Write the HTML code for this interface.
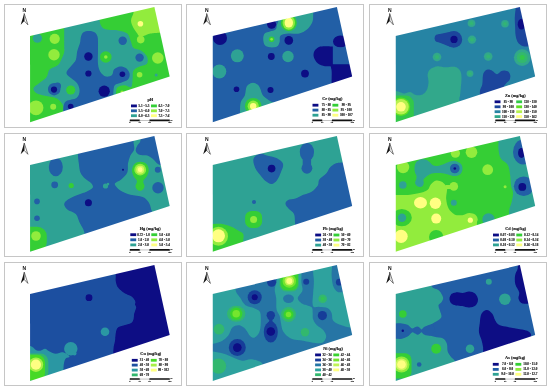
<!DOCTYPE html>
<html><head><meta charset="utf-8"><title>Heavy metal maps</title>
<style>
html,body{margin:0;padding:0;background:#fff}
body{width:550px;height:390px;overflow:hidden}
svg{display:block}
text{font-family:"Liberation Serif",serif;fill:#111}
.lt{font-size:4.3px;font-weight:bold;stroke:#111;stroke-width:0.12px}
.ll{font-size:3.3px;font-weight:bold;stroke:#111;stroke-width:0.12px}
.n{font-family:"Liberation Sans",sans-serif;font-size:5px;font-weight:bold}
.sb{font-size:2.3px;font-weight:bold;stroke:#111;stroke-width:0.1px}
</style></head><body>
<svg width="550" height="390" viewBox="0 0 550 390">
<defs>
<clipPath id="q"><path d="M30 36L154.4 6.9L169.7 76.5L30.1 122.3"/></clipPath>
<clipPath id="q2"><path d="M30 35.4L154.4 6.5L169.7 76.5L30.1 122.3"/></clipPath>
<filter id="bl" x="-5%" y="-5%" width="110%" height="110%"><feGaussianBlur stdDeviation="0.35"/></filter>
</defs>
<rect x="4.5" y="4.5" width="177" height="123" fill="#fff" stroke="#c6c6c6" stroke-width="1"/>
<rect x="4.5" y="133.5" width="177" height="123" fill="#fff" stroke="#c6c6c6" stroke-width="1"/>
<rect x="4.5" y="262.5" width="177" height="123" fill="#fff" stroke="#c6c6c6" stroke-width="1"/>
<rect x="186.5" y="4.5" width="177" height="123" fill="#fff" stroke="#c6c6c6" stroke-width="1"/>
<rect x="186.5" y="133.5" width="177" height="123" fill="#fff" stroke="#c6c6c6" stroke-width="1"/>
<rect x="186.5" y="262.5" width="177" height="123" fill="#fff" stroke="#c6c6c6" stroke-width="1"/>
<rect x="369.5" y="4.5" width="177" height="123" fill="#fff" stroke="#c6c6c6" stroke-width="1"/>
<rect x="369.5" y="133.5" width="177" height="123" fill="#fff" stroke="#c6c6c6" stroke-width="1"/>
<rect x="369.5" y="262.5" width="177" height="123" fill="#fff" stroke="#c6c6c6" stroke-width="1"/>
<g transform="translate(0 0)">
<g><text class="n" x="24.3" y="11.9" text-anchor="middle">N</text><path d="M24.2 13.5L20.7 24.8L24.3 21Z" fill="#111"/><path d="M24.2 13.5L27.9 24.8L24.3 21Z" fill="#fff" stroke="#222" stroke-width="0.6" stroke-linejoin="round"/></g>
<g clip-path="url(#q)"><g filter="url(#bl)">
<rect x="20" y="0" width="160" height="130" fill="#2fa294"/>
<path fill="#34ce36" d="M64.2 15C64.2 15 64.2 25 64.2 30C64.2 35 64.2 41.3 64.2 45C64.2 48.7 64.6 49.8 64.2 52C63.8 54.2 63 55.8 62 58C61 60.2 60.1 63.1 58 65C55.9 66.9 51.5 67.5 49.6 69.6C47.7 71.6 48.3 75 46.5 77.3C44.7 79.6 41 81.7 38.8 83.5C36.6 85.3 34 86.5 33.5 88C33 89.5 33.9 91.4 35.8 92.7C37.7 94 41.7 94.9 45 95.8C48.3 96.7 53 96.7 55.8 98C58.6 99.3 60.7 101.4 62 103.5C63.3 105.6 63.2 106.3 63.5 110.4C63.8 114.5 63.5 128 63.5 128L15 128L15 15L64.2 15Z"/>
<path fill="#34ce36" d="M99.6 15C99.6 15 99.4 18.6 99.6 20.4C99.8 22.1 100.2 24.1 101 25.5C101.8 26.9 102.7 28.1 104.2 28.8C105.7 29.6 107.7 29.7 110 30C112.3 30.3 115.1 29.8 118 30.4C120.9 31 125.1 31.6 127.3 33.5C129.5 35.4 130 39.6 131 42C132 44.4 131.8 46.6 133.5 48C135.2 49.4 138.8 49.1 141 50.4C143.2 51.7 145.4 54 146.5 55.8C147.6 57.6 147.9 59.5 147.8 61C147.7 62.5 147.4 63.6 146 64.5C144.6 65.4 141.7 65.5 139.6 66.5C137.5 67.5 134.7 68.5 133.5 70.4C132.3 72.3 132.9 75.6 132.7 78C132.4 80.4 132.4 83.5 132 85C131.6 86.5 131.7 87.3 130.4 87.3C129.1 87.3 126.4 85.2 124.2 85.2C122 85.2 118.9 85.9 117.5 87.2C116.1 88.5 116.2 90 116 93C115.8 96 116 105 116 105L185 105L185 0L99.6 0L99.6 15Z"/>
<path fill="#92ec3c" d="M133.5 5C133.5 5 133.9 10.1 133.5 12.7C133.1 15.3 131 17.8 131 20.4C131 22.9 132.4 25.8 133.5 28C134.6 30.2 136.4 32.2 137.3 33.5C138.2 34.8 138 35.6 139 36C140 36.4 141.6 36.4 143.5 36C145.4 35.6 147.7 34 150.4 33.5C153.1 33 154.7 33 159.6 32.7C164.5 32.5 180 32 180 32L180 0L133.5 5Z"/>
<circle fill="#92ec3c" cx="140.7" cy="39.6" r="3.8"/>
<path fill="#225ea6" d="M81 36.5C81.6 34.7 82.2 33.1 83.5 32.2C84.8 31.3 87 31 88.8 31C90.6 31 93 31.3 94.5 32.2C96 33.1 96.9 34.7 97.5 36.5C98.1 38.3 97.9 40.6 98 43C98.1 45.4 98 47.5 98 51C98 54.5 97.6 60.5 98 64C98.4 67.5 99.1 69.9 100.4 72C101.7 74.1 103.9 76 105.8 76.5C107.7 77 110.6 76.2 112 75C113.4 73.8 112.7 71 114 69.6C115.3 68.2 117.6 66.8 119.6 66.5C121.6 66.2 124.1 66.8 125.8 68C127.5 69.2 129.2 71.6 129.6 73.5C130 75.4 129.4 78.1 128 79.6C126.6 81.1 123.2 81.8 121 82.7C118.8 83.6 116.2 83.7 115 85C113.8 86.3 113.8 87.9 113.5 90.4C113.2 92.9 113.5 100 113.5 100L63.5 118C63.5 118 63 109.3 63.5 106.5C64 103.7 64.3 102.4 66.5 101C68.7 99.6 74.3 99.7 76.5 98C78.7 96.3 79.5 93.4 79.6 91C79.7 88.6 78.7 85.7 77.3 83.5C75.9 81.3 72.8 79.8 71 78C69.2 76.2 66.3 74.9 66.5 72.7C66.7 70.5 70.5 67.1 72 65C73.5 62.9 74.9 62.3 75.8 60C76.7 57.7 76.6 53.8 77.3 51C78 48.2 79.4 45.4 80 43C80.6 40.6 80.4 38.3 81 36.5Z"/>
<circle fill="#2fa294" cx="37.4" cy="38.2" r="4.6"/>
<circle fill="#92ec3c" cx="54.7" cy="38.8" r="5.1"/>
<circle fill="#92ec3c" cx="54" cy="54.8" r="5.7"/>
<circle fill="#0c0c84" cx="88.4" cy="56.5" r="4.2"/>
<circle fill="#ffff82" cx="140.4" cy="23.8" r="2.8"/>
<circle fill="#225ea6" cx="122.7" cy="40.7" r="4.2"/>
<circle fill="#225ea6" cx="139.6" cy="57.6" r="4.2"/>
<circle fill="#34ce36" cx="105.8" cy="57" r="5.8"/>
<circle fill="#92ec3c" cx="105.8" cy="57" r="1.8"/>
<circle fill="#92ec3c" cx="157.8" cy="58" r="5.8"/>
<circle fill="#225ea6" cx="54.2" cy="89.2" r="6.2"/>
<circle fill="#225ea6" cx="57.5" cy="86" r="3.5"/>
<circle fill="#0c0c84" cx="54" cy="89.6" r="3.1"/>
<circle fill="#34ce36" cx="70.7" cy="90" r="4.6"/>
<circle fill="#0c0c84" cx="88.4" cy="73.5" r="3.1"/>
<circle fill="#0c0c84" cx="104.2" cy="91.2" r="5.6"/>
<circle fill="#0c0c84" cx="70.7" cy="106.5" r="2.8"/>
<circle fill="#92ec3c" cx="36" cy="107.8" r="7.4"/>
<circle fill="#92ec3c" cx="53.2" cy="106.8" r="3"/>
<circle fill="#0c0c84" cx="122.4" cy="74.2" r="2.8"/>
<circle fill="#92ec3c" cx="122" cy="92" r="1.5"/>
<circle fill="#92ec3c" cx="139.6" cy="74.7" r="2.8"/>
<circle fill="#2fa294" cx="156.2" cy="75" r="1.5"/>
</g></g>
<text class="lt" x="150.3" y="101.1" text-anchor="middle">pH</text>
<rect x="131" y="104.5" width="5.9" height="2.8" fill="#0c0c84"/><text class="ll" x="144" y="107" text-anchor="middle">5.1 - 5.5</text>
<rect x="131" y="109.4" width="5.9" height="2.8" fill="#225ea6"/><text class="ll" x="144" y="111.9" text-anchor="middle">5.5 - 6.0</text>
<rect x="131" y="114.3" width="5.9" height="2.8" fill="#2fa294"/><text class="ll" x="144" y="116.8" text-anchor="middle">6.0 - 6.5</text>
<rect x="151" y="104.5" width="5.9" height="2.8" fill="#34ce36"/><text class="ll" x="163.9" y="107" text-anchor="middle">6.5 - 7.0</text>
<rect x="151" y="109.4" width="5.9" height="2.8" fill="#92ec3c"/><text class="ll" x="163.9" y="111.9" text-anchor="middle">7.0 - 7.5</text>
<rect x="151" y="114.3" width="5.9" height="2.8" fill="#ffff82"/><text class="ll" x="163.9" y="116.8" text-anchor="middle">7.5 - 7.6</text>
<g><path d="M129.9 119.6h9.8v1.6h-9.8zM149.5 119.6h20.2v1.6h-20.2z" fill="#111"/><path d="M139.7 120.1h9.8v0.7h-9.8z" fill="#aaa"/><path d="M129.9 119.9v1.9M139.7 119.9v1.9M149.5 119.9v1.9M169.7 119.9v1.9" stroke="#222" stroke-width="0.3"/><text class="sb" x="129.9" y="123.3" text-anchor="middle">0</text><text class="sb" x="139.7" y="123.3" text-anchor="middle">25</text><text class="sb" x="149.5" y="123.3" text-anchor="middle">50</text><text class="sb" x="169.7" y="123.3" text-anchor="middle">100</text><text class="sb" x="170.4" y="120.9">m</text></g>
</g>
<g transform="translate(182.5 0)">
<g><text class="n" x="24.3" y="11.9" text-anchor="middle">N</text><path d="M24.2 13.5L20.7 24.8L24.3 21Z" fill="#111"/><path d="M24.2 13.5L27.9 24.8L24.3 21Z" fill="#fff" stroke="#222" stroke-width="0.6" stroke-linejoin="round"/></g>
<g clip-path="url(#q)"><g filter="url(#bl)">
<rect x="20" y="0" width="160" height="130" fill="#225ea6"/>
<circle fill="#0c0c84" cx="37.5" cy="38" r="7"/>
<circle fill="#2fa294" cx="54.8" cy="55.8" r="6.5"/>
<path fill="#2fa294" d="M96 8C96 8 96.2 16.8 96 19.6C95.8 22.4 95 23.3 94.5 25C94 26.7 94.2 28.5 93 29.6C91.8 30.7 89.3 30.9 87.5 31.5C85.7 32.1 83.3 32.3 82.2 33.5C81.1 34.7 80.7 36.9 80.7 38.8C80.7 40.7 81.1 43.6 82.2 45C83.3 46.4 85.5 47 87.5 47.3C89.5 47.5 92.9 47.4 94.5 46.5C96.1 45.6 96.6 43.7 97.1 42C97.6 40.3 96.9 37.8 97.5 36.5C98.1 35.2 99 34.7 100.7 34.2C102.4 33.7 104.8 33.6 107.5 33.5C110.2 33.4 114 34.1 116.8 33.5C119.6 32.9 122.3 31.5 124.5 29.6C126.7 27.7 128.9 24.7 129.9 22C130.9 19.3 130.6 16.7 130.7 13.5C130.8 10.3 130.7 3 130.7 3L96 8Z"/>
<circle fill="#34ce36" cx="89.1" cy="39.2" r="2.8"/>
<circle fill="#92ec3c" cx="89.1" cy="39.2" r="1.3"/>
<circle fill="#0c0c84" cx="89.1" cy="24.2" r="4.5"/>
<circle fill="#0c0c84" cx="88.8" cy="56.5" r="3.4"/>
<ellipse fill="#34ce36" cx="106.3" cy="22.7" rx="8" ry="8.5"/>
<ellipse fill="#92ec3c" cx="106.3" cy="22.7" rx="6.2" ry="7"/>
<ellipse fill="#ffff82" cx="106.3" cy="22.7" rx="4.2" ry="4.9"/>
<circle fill="#0c0c84" cx="106.3" cy="40.4" r="4.3"/>
<circle fill="#2fa294" cx="105.5" cy="56.5" r="5.7"/>
<path fill="#0c0c84" d="M150.3 46.5L150.3 66C150.3 66 145 66.6 142.5 66.2C140 65.8 137.4 65 135.5 63.5C133.6 62 131.9 59.1 131.3 57C130.7 54.9 131.1 52.7 132 51C132.9 49.3 134.8 47.8 136.5 47C138.2 46.2 140.2 46.3 142.5 46.2C144.8 46.1 150.3 46.5 150.3 46.5Z"/>
<path fill="#0c0c84" d="M147.5 64.2C147.5 64.2 148.8 67.3 149.1 70.4C149.4 73.5 149.1 78.6 149.1 82.7C149.1 86.8 149.1 95 149.1 95L180 95L180 64.2L147.5 64.2Z"/>
<ellipse fill="#0c0c84" cx="158" cy="41.5" rx="7.5" ry="6"/>
<rect fill="#225ea6" x="150.5" y="47.3" width="19.5" height="16.7" rx="2.5"/>
<circle fill="#0c0c84" cx="122.5" cy="73.6" r="3.9"/>
<circle fill="#2fa294" cx="36.8" cy="71.5" r="7"/>
<circle fill="#0c0c84" cx="54" cy="89.3" r="2.8"/>
<circle fill="#0c0c84" cx="88" cy="90" r="3"/>
<path fill="#2fa294" d="M70.5 82.7C72 82.7 73.8 83.6 75 84.5C76.2 85.4 76.5 86.1 77.5 88C78.5 89.9 78.9 93.5 80.7 95.8C82.5 98 85.8 100 88.5 101.5C91.2 103 95.6 101.9 97 105C98.4 108.1 97 120 97 120L57.5 120C57.5 120 57.4 114 57.5 111C57.6 108 57.5 104.5 58.3 102C59.1 99.5 61.3 98.1 62.2 95.8C63.1 93.5 63.1 89.9 63.7 88C64.3 86.1 64.9 85.4 66 84.5C67.1 83.6 69 82.7 70.5 82.7Z"/>
<circle fill="#34ce36" cx="70.7" cy="106.2" r="8.3"/>
<circle fill="#92ec3c" cx="70.7" cy="106.2" r="5.6"/>
<circle fill="#ffff82" cx="70.7" cy="106.2" r="3.2"/>
</g></g>
<text class="lt" x="149.8" y="100.4" text-anchor="middle">Cr (mg/kg)</text>
<rect x="130" y="103.8" width="5.9" height="2.8" fill="#0c0c84"/><text class="ll" x="143.8" y="106.3" text-anchor="middle">75 - 80</text>
<rect x="130" y="108.7" width="5.9" height="2.8" fill="#225ea6"/><text class="ll" x="143.8" y="111.2" text-anchor="middle">80 - 85</text>
<rect x="130" y="113.8" width="5.9" height="2.8" fill="#2fa294"/><text class="ll" x="143.8" y="116.3" text-anchor="middle">85 - 90</text>
<rect x="149.9" y="103.8" width="5.9" height="2.8" fill="#34ce36"/><text class="ll" x="163.8" y="106.3" text-anchor="middle">90 - 95</text>
<rect x="149.9" y="108.7" width="5.9" height="2.8" fill="#92ec3c"/><text class="ll" x="163.8" y="111.2" text-anchor="middle">95 - 100</text>
<rect x="149.9" y="113.8" width="5.9" height="2.8" fill="#ffff82"/><text class="ll" x="163.8" y="116.3" text-anchor="middle">100 - 107</text>
<g><path d="M129.9 119.6h9.8v1.6h-9.8zM149.5 119.6h20.2v1.6h-20.2z" fill="#111"/><path d="M139.7 120.1h9.8v0.7h-9.8z" fill="#aaa"/><path d="M129.9 119.9v1.9M139.7 119.9v1.9M149.5 119.9v1.9M169.7 119.9v1.9" stroke="#222" stroke-width="0.3"/><text class="sb" x="129.9" y="123.3" text-anchor="middle">0</text><text class="sb" x="139.7" y="123.3" text-anchor="middle">25</text><text class="sb" x="149.5" y="123.3" text-anchor="middle">50</text><text class="sb" x="169.7" y="123.3" text-anchor="middle">100</text><text class="sb" x="170.4" y="120.9">m</text></g>
</g>
<g transform="translate(365.5 0)">
<g><text class="n" x="24.3" y="11.9" text-anchor="middle">N</text><path d="M24.2 13.5L20.7 24.8L24.3 21Z" fill="#111"/><path d="M24.2 13.5L27.9 24.8L24.3 21Z" fill="#fff" stroke="#222" stroke-width="0.6" stroke-linejoin="round"/></g>
<g clip-path="url(#q)"><g filter="url(#bl)">
<rect x="20" y="0" width="160" height="130" fill="#2884a4"/>
<path fill="#30a88b" d="M20 91C20 91 27.4 90.6 30.5 91C33.5 91.4 36 93.3 38.3 93.5C40.6 93.7 42.5 91.8 44.5 92C46.5 92.2 48.3 94.6 50.5 95C52.7 95.4 55.7 95.1 57.5 94.2C59.3 93.3 60.6 91.6 61.5 89.6C62.4 87.6 62.9 84.6 63 82C63.1 79.4 61.8 76.4 62.2 74.2C62.6 72 63.6 70.1 65.3 68.8C67 67.5 69.8 66.5 72.2 66.2C74.6 66 77.1 67.2 79.9 67.3C82.7 67.4 86.7 66.3 89.1 66.8C91.5 67.3 93.3 68.7 94.5 70.4C95.7 72.2 95.9 74.4 96 77.3C96.1 80.2 95.5 84.9 95.3 88C95 91.1 94.8 93.6 94.5 95.8C94.2 98 93.8 96.1 93.7 101C93.6 105.9 93.7 125 93.7 125L20 125L20 91Z"/>
<rect fill="#33c848" x="20" y="95.6" width="28.3" height="29.4" rx="8"/>
<circle fill="#5ee022" cx="35.5" cy="106.8" r="9.2"/>
<circle fill="#b6f14f" cx="35.5" cy="106.8" r="7.8"/>
<circle fill="#ffff82" cx="35.5" cy="106.8" r="4.8"/>
<circle fill="#1b459c" cx="88.3" cy="39.4" r="8.4"/>
<circle fill="#1b459c" cx="73.1" cy="38.2" r="4"/>
<path fill="#1b459c" d="M73.1 34.2L85 31.7L85 47L73.1 42.2L73.1 34.2Z"/>
<circle fill="#0c0c84" cx="88.5" cy="39.4" r="3.6"/>
<circle fill="#30a88b" cx="71.5" cy="57" r="4.3"/>
<circle fill="#32b574" cx="71.5" cy="57" r="2.1"/>
<circle fill="#30a88b" cx="106" cy="23.2" r="3.8"/>
<circle fill="#32b574" cx="106" cy="23.2" r="1.9"/>
<circle fill="#30a88b" cx="106.5" cy="39.6" r="4.2"/>
<circle fill="#32b574" cx="106.5" cy="39.6" r="2.1"/>
<circle fill="#30a88b" cx="139.5" cy="23.8" r="3.8"/>
<circle fill="#32b574" cx="139.5" cy="23.8" r="1.9"/>
<circle fill="#30a88b" cx="122.7" cy="56.5" r="4.3"/>
<circle fill="#32b574" cx="122.7" cy="56.5" r="2.1"/>
<circle fill="#30a88b" cx="104.5" cy="73.6" r="3.4"/>
<circle fill="#32b574" cx="104.5" cy="73.6" r="1.7"/>
<path fill="#1b459c" d="M150.7 3C150.7 3 150.4 5.6 150.2 8C150 10.4 149.4 14.2 149.3 17.3C149.2 20.4 149.4 23.4 149.6 26.5C149.8 29.6 149.7 33.3 150.2 36C150.7 38.7 151.4 40.8 152.5 42.5C153.6 44.2 155.4 45.3 157 46C158.6 46.7 158.2 46.3 162 46.5C165.8 46.7 180 47 180 47L180 3L150.7 3Z"/>
<ellipse fill="#0c0c84" cx="156" cy="24.2" rx="3.8" ry="5.4"/>
<circle fill="#30a88b" cx="156.7" cy="57.6" r="8.3"/>
<circle fill="#32b86e" cx="156.7" cy="57.6" r="5.5"/>
<circle fill="#33c848" cx="156.7" cy="57.6" r="2.5"/>
<path fill="#1b459c" d="M117.5 75C118 72.8 118.6 71.9 119.5 71C120.4 70.1 121.8 69.6 123 69.6C124.2 69.6 125.6 70.2 127 71C128.4 71.8 130.1 74.2 131.5 74.2C132.9 74.2 134.2 71.8 135.5 71.2C136.8 70.6 137.8 70.3 139.1 70.4C140.3 70.5 142.1 71 143 71.8C143.9 72.6 144.6 74.1 144.8 75.5C145 76.9 144.7 78.7 144 80C143.3 81.3 141.5 82.2 140.5 83.5C139.5 84.8 138.4 85.6 138 88C137.6 90.4 138 98 138 98L114.5 98C114.5 98 114.1 92.7 114.5 90.4C114.9 88.1 116.3 86.8 116.8 84.2C117.3 81.6 117 77.2 117.5 75Z"/>
</g></g>
<text class="lt" x="149.8" y="96.8" text-anchor="middle">Zn (mg/kg)</text>
<rect x="129.1" y="100.4" width="5.9" height="2.8" fill="#0c0c84"/><text class="ll" x="142.8" y="102.9" text-anchor="middle">85 - 90</text>
<rect x="129.1" y="105.4" width="5.9" height="2.8" fill="#1b459c"/><text class="ll" x="142.8" y="107.9" text-anchor="middle">90 - 100</text>
<rect x="129.1" y="110.3" width="5.9" height="2.8" fill="#2884a4"/><text class="ll" x="142.8" y="112.8" text-anchor="middle">100 - 110</text>
<rect x="129.1" y="115.2" width="5.9" height="2.8" fill="#30a88b"/><text class="ll" x="142.8" y="117.7" text-anchor="middle">110 - 120</text>
<rect x="150.7" y="100.4" width="5.9" height="2.8" fill="#33c848"/><text class="ll" x="164.8" y="102.9" text-anchor="middle">120 - 130</text>
<rect x="150.7" y="105.4" width="5.9" height="2.8" fill="#5ee022"/><text class="ll" x="164.8" y="107.9" text-anchor="middle">130 - 140</text>
<rect x="150.7" y="110.3" width="5.9" height="2.8" fill="#b6f14f"/><text class="ll" x="164.8" y="112.8" text-anchor="middle">140 - 150</text>
<rect x="150.7" y="115.2" width="5.9" height="2.8" fill="#ffff82"/><text class="ll" x="164.8" y="117.7" text-anchor="middle">150 - 162</text>
<g><path d="M129.9 119.6h9.8v1.6h-9.8zM149.5 119.6h20.2v1.6h-20.2z" fill="#111"/><path d="M139.7 120.1h9.8v0.7h-9.8z" fill="#aaa"/><path d="M129.9 119.9v1.9M139.7 119.9v1.9M149.5 119.9v1.9M169.7 119.9v1.9" stroke="#222" stroke-width="0.3"/><text class="sb" x="129.9" y="123.3" text-anchor="middle">0</text><text class="sb" x="139.7" y="123.3" text-anchor="middle">25</text><text class="sb" x="149.5" y="123.3" text-anchor="middle">50</text><text class="sb" x="169.7" y="123.3" text-anchor="middle">100</text><text class="sb" x="170.4" y="120.9">m</text></g>
</g>
<g transform="translate(0 129.5)">
<g><text class="n" x="24.3" y="11.9" text-anchor="middle">N</text><path d="M24.2 13.5L20.7 24.8L24.3 21Z" fill="#111"/><path d="M24.2 13.5L27.9 24.8L24.3 21Z" fill="#fff" stroke="#222" stroke-width="0.6" stroke-linejoin="round"/></g>
<g clip-path="url(#q2)"><g filter="url(#bl)">
<rect x="20" y="0" width="160" height="130" fill="#2fa294"/>
<path fill="#225ea6" d="M78 15C78 15 77.9 22.9 78 26C78.1 29.1 78.4 30.9 78.8 33.7C79.2 36.5 79.4 40.5 80.4 43C81.4 45.5 83.2 47.2 85 49C86.8 50.8 89.9 52.2 91.2 53.7C92.5 55.2 93.5 56.9 92.7 58.3C91.9 59.7 88.8 61.1 86.5 62.2C84.2 63.3 81.9 63.7 78.8 65C75.7 66.3 70.4 68.3 68 69.9C65.6 71.5 64.3 72.8 64.2 74.5C64.1 76.2 65.4 78.2 67.3 79.9C69.2 81.6 73.8 82.3 75.8 84.5C77.8 86.7 78.2 90 79.6 93C81 96 83.3 99 84.2 102.2C85.1 105.4 85 112 85 112L152 95C152 95 152.1 85.5 152 83C151.9 80.5 151.7 81.6 151.2 79.9C150.7 78.2 150.2 75.1 148.8 73C147.4 70.9 145.8 68.8 142.7 67.5C139.6 66.2 134 66.3 130.4 65.3C126.8 64.3 123.5 62.8 121.2 61.5C118.9 60.2 117.5 58.8 116.5 57.5C115.5 56.2 114.2 55 115 53.7C115.8 52.4 119.2 51.7 121.2 49.9C123.2 48.1 126.2 45.7 127.3 43C128.4 40.3 127.5 36.5 128 33.7C128.5 30.9 129.4 28.3 130.4 26C131.4 23.7 133.7 22.2 134.2 19.9C134.7 17.6 133.6 15 133.5 12.2C133.4 9.4 133.5 3 133.5 3L78 15Z"/>
<path fill="#225ea6" d="M140.4 3C140.4 3 140.9 9.3 140.4 11.5C139.9 13.7 138.1 14.3 137.3 16C136.5 17.7 135.4 19.9 135.8 21.5C136.2 23.1 137.7 24.6 139.6 25.3C141.5 26.1 145 25.2 147.3 26C149.6 26.8 151.7 28.5 153.5 29.9C155.3 31.3 156.4 33.5 158 34.5C159.6 35.5 159.7 35.8 163 36C166.3 36.2 178 36 178 36L178 0L140.4 0L140.4 3Z"/>
<ellipse fill="#225ea6" cx="55.8" cy="37.5" rx="7" ry="9.2"/>
<circle fill="#225ea6" cx="54.7" cy="55.3" r="3.4"/>
<circle fill="#34ce36" cx="71.2" cy="56" r="2.6"/>
<path fill="#34ce36" d="M140.5 32.2C142.5 32.2 145.1 33.1 146.5 34.5C147.9 35.9 148.7 38.5 148.8 40.5C148.9 42.5 147.8 44.8 147 46.5C146.2 48.2 144.4 49.4 143.8 50.5C143.2 51.6 143.2 52 143.3 53C143.4 54 144.6 55.3 144.5 56.5C144.4 57.7 143.8 59.2 143 60C142.2 60.8 141 61.3 140 61.3C139 61.3 137.8 60.8 137 60C136.2 59.2 135.5 57.7 135.5 56.5C135.5 55.3 136.6 54 136.8 53C137 52 137.1 51.6 136.5 50.5C135.9 49.4 134.2 48.2 133.5 46.5C132.8 44.8 131.8 42.5 132 40.5C132.2 38.5 133.1 35.9 134.5 34.5C135.9 33.1 138.5 32.2 140.5 32.2Z"/>
<circle fill="#92ec3c" cx="140.2" cy="40.2" r="5.9"/>
<circle fill="#cff65e" cx="140.2" cy="40.2" r="4"/>
<circle fill="#ffff82" cx="140.2" cy="40.2" r="2.4"/>
<circle fill="#0c0c84" cx="123" cy="40.2" r="1"/>
<circle fill="#225ea6" cx="157.8" cy="40.2" r="3"/>
<circle fill="#225ea6" cx="158" cy="58.3" r="5.7"/>
<circle fill="#2fa294" cx="105.5" cy="56.5" r="2.6"/>
<circle fill="#2fa294" cx="108" cy="54.6" r="1.3"/>
<circle fill="#225ea6" cx="37" cy="71.9" r="2.8"/>
<circle fill="#225ea6" cx="37" cy="88.7" r="2.8"/>
<rect fill="#34ce36" x="20" y="97.2" width="26.8" height="24.8" rx="9.5"/>
<circle fill="#92ec3c" cx="36" cy="106.5" r="4.8"/>
<circle fill="#0c0c84" cx="88.4" cy="73.3" r="3.5"/>
</g></g>
<text class="lt" x="150.2" y="100.4" text-anchor="middle">Hg (mg/kg)</text>
<rect x="130.3" y="103.8" width="5.9" height="2.8" fill="#0c0c84"/><text class="ll" x="143.5" y="106.3" text-anchor="middle">0.72 - 1.0</text>
<rect x="130.3" y="108.9" width="5.9" height="2.8" fill="#225ea6"/><text class="ll" x="143.5" y="111.4" text-anchor="middle">1.0 - 2.0</text>
<rect x="130.3" y="114" width="5.9" height="2.8" fill="#2fa294"/><text class="ll" x="143.5" y="116.5" text-anchor="middle">2.0 - 3.0</text>
<rect x="151.3" y="103.8" width="5.9" height="2.8" fill="#34ce36"/><text class="ll" x="164.5" y="106.3" text-anchor="middle">3.0 - 4.0</text>
<rect x="151.3" y="108.9" width="5.9" height="2.8" fill="#92ec3c"/><text class="ll" x="164.5" y="111.4" text-anchor="middle">4.0 - 5.0</text>
<rect x="151.3" y="114" width="5.9" height="2.8" fill="#ffff82"/><text class="ll" x="164.5" y="116.5" text-anchor="middle">5.0 - 5.4</text>
<g><path d="M129.9 119.6h9.8v1.6h-9.8zM149.5 119.6h20.2v1.6h-20.2z" fill="#111"/><path d="M139.7 120.1h9.8v0.7h-9.8z" fill="#aaa"/><path d="M129.9 119.9v1.9M139.7 119.9v1.9M149.5 119.9v1.9M169.7 119.9v1.9" stroke="#222" stroke-width="0.3"/><text class="sb" x="129.9" y="123.3" text-anchor="middle">0</text><text class="sb" x="139.7" y="123.3" text-anchor="middle">25</text><text class="sb" x="149.5" y="123.3" text-anchor="middle">50</text><text class="sb" x="169.7" y="123.3" text-anchor="middle">100</text><text class="sb" x="170.4" y="120.9">m</text></g>
</g>
<g transform="translate(182.5 129.5)">
<g><text class="n" x="24.3" y="11.9" text-anchor="middle">N</text><path d="M24.2 13.5L20.7 24.8L24.3 21Z" fill="#111"/><path d="M24.2 13.5L27.9 24.8L24.3 21Z" fill="#fff" stroke="#222" stroke-width="0.6" stroke-linejoin="round"/></g>
<g clip-path="url(#q2)"><g filter="url(#bl)">
<rect x="20" y="0" width="160" height="130" fill="#2fa294"/>
<path fill="#225ea6" d="M71 29.5C71.8 27 75.1 24.5 77.5 24C79.9 23.5 82.5 25.5 85.3 26.3C88.1 27.1 92 27.4 94.5 28.8C97 30.2 100 32.1 100.6 34.5C101.2 36.9 99.3 40.3 98.3 43C97.3 45.7 96 48.8 94.5 50.7C93 52.6 91 54.4 89.1 54.5C87.2 54.6 84.9 53 83 51.5C81.1 50 79.2 47.4 77.5 45.3C75.8 43.2 74.1 41.7 73 39.1C71.9 36.5 70.2 32 71 29.5Z"/>
<circle fill="#0c0c84" cx="89.1" cy="39.1" r="3.8"/>
<ellipse fill="#225ea6" cx="124.4" cy="22.5" rx="7.1" ry="9.3"/>
<circle fill="#225ea6" cx="124.4" cy="38.8" r="5.4"/>
<rect fill="#225ea6" x="120.2" y="28" width="8.4" height="9" rx="0"/>
<path fill="#225ea6" d="M178 32.5C178 32.5 164.1 32.8 159.9 33C155.7 33.2 155.1 33.2 153 34C150.9 34.8 149.1 36.3 147.5 38C145.9 39.7 145.5 42 143.7 44C141.9 46 138.2 47.9 136.8 49.9C135.4 51.9 136.6 54 135.3 56C134 58 131.5 60.7 129.1 62.2C126.7 63.8 123.4 64.2 120.7 65.3C118 66.4 115.6 68.2 113 69.1C110.4 70 107 69.8 105.3 70.7C103.6 71.6 102.9 73.1 103 74.5C103.1 75.9 104.6 77.4 106 79.1C107.4 80.8 110.4 82.2 111.5 84.5C112.6 86.8 112.3 90.4 112.5 93C112.7 95.6 112.5 100 112.5 100L178 100L178 32.5Z"/>
<circle fill="#225ea6" cx="71.5" cy="72.5" r="2"/>
<rect fill="#34ce36" x="62.6" y="81.4" width="17" height="17" rx="6.5"/>
<circle fill="#92ec3c" cx="71.1" cy="89.9" r="3.5"/>
<path fill="#34ce36" d="M20 94.5C20 94.5 27.4 94.5 30.7 94.5C34 94.5 37.1 94.1 39.9 94.5C42.7 94.9 45 95.8 47.6 96.8C50.2 97.8 53.1 99.4 55.3 100.7C57.5 102 59.8 102.6 60.7 104.5C61.6 106.4 60.7 108.6 60.7 112C60.7 115.4 60.7 125 60.7 125L20 125L20 94.5Z"/>
<circle fill="#92ec3c" cx="36" cy="106.8" r="9.5"/>
<circle fill="#ffff82" cx="36" cy="106.3" r="6.5"/>
</g></g>
<text class="lt" x="150.4" y="100.6" text-anchor="middle">Pb (mg/kg)</text>
<rect x="132.7" y="104.1" width="5.9" height="2.8" fill="#0c0c84"/><text class="ll" x="145" y="106.6" text-anchor="middle">26 - 30</text>
<rect x="132.7" y="109.1" width="5.9" height="2.8" fill="#225ea6"/><text class="ll" x="145" y="111.6" text-anchor="middle">30 - 40</text>
<rect x="132.7" y="114.2" width="5.9" height="2.8" fill="#2fa294"/><text class="ll" x="145" y="116.7" text-anchor="middle">40 - 50</text>
<rect x="151" y="104.1" width="5.9" height="2.8" fill="#34ce36"/><text class="ll" x="163.3" y="106.6" text-anchor="middle">50 - 60</text>
<rect x="151" y="109.1" width="5.9" height="2.8" fill="#92ec3c"/><text class="ll" x="163.3" y="111.6" text-anchor="middle">60 - 70</text>
<rect x="151" y="114.2" width="5.9" height="2.8" fill="#ffff82"/><text class="ll" x="163.3" y="116.7" text-anchor="middle">70 - 82</text>
<g><path d="M129.9 119.6h9.8v1.6h-9.8zM149.5 119.6h20.2v1.6h-20.2z" fill="#111"/><path d="M139.7 120.1h9.8v0.7h-9.8z" fill="#aaa"/><path d="M129.9 119.9v1.9M139.7 119.9v1.9M149.5 119.9v1.9M169.7 119.9v1.9" stroke="#222" stroke-width="0.3"/><text class="sb" x="129.9" y="123.3" text-anchor="middle">0</text><text class="sb" x="139.7" y="123.3" text-anchor="middle">25</text><text class="sb" x="149.5" y="123.3" text-anchor="middle">50</text><text class="sb" x="169.7" y="123.3" text-anchor="middle">100</text><text class="sb" x="170.4" y="120.9">m</text></g>
</g>
<g transform="translate(365.5 129.5)">
<g><text class="n" x="24.3" y="11.9" text-anchor="middle">N</text><path d="M24.2 13.5L20.7 24.8L24.3 21Z" fill="#111"/><path d="M24.2 13.5L27.9 24.8L24.3 21Z" fill="#fff" stroke="#222" stroke-width="0.6" stroke-linejoin="round"/></g>
<g clip-path="url(#q2)"><g filter="url(#bl)">
<rect x="20" y="0" width="160" height="130" fill="#34ce36"/>
<circle fill="#92ec3c" cx="37.6" cy="37.6" r="6.2"/>
<path fill="#92ec3c" d="M20 65.5C20 65.5 26.6 65.5 30.7 65.5C34.8 65.5 40.4 65.6 44.5 65.2C48.6 64.8 52.3 64.1 55.3 63.3C58.2 62.5 60.5 61.7 62.2 60.3C63.9 58.9 63.9 56.4 65.3 54.9C66.7 53.4 68.8 51.4 70.7 51C72.6 50.6 75 51.4 76.8 52.6C78.6 53.8 80.6 56.5 81.4 58C82.2 59.5 81.5 59.9 81.4 61.8C81.3 63.7 80.4 66.7 80.7 69.5C81 72.3 81.6 76.1 83 78.7C84.4 81.3 86.8 83.7 89.1 84.9C91.4 86.1 94.4 85.9 96.8 85.7C99.2 85.5 101.5 83.6 103.7 83.5C105.9 83.4 108.5 84.2 109.9 85.3C111.3 86.4 112 88.2 112.2 89.9C112.5 91.6 111.5 89.5 111.4 95.3C111.3 101.1 111.4 125 111.4 125L20 125L20 65.5Z"/>
<circle fill="#92ec3c" cx="88.3" cy="56.9" r="4.3"/>
<rect fill="#92ec3c" x="80" y="55.5" width="6" height="4" rx="0"/>
<path fill="#2fa294" d="M49 38.3C49.2 36.6 49.5 34.4 50.5 33C51.5 31.6 53.4 30.5 55 30C56.6 29.5 58.5 29.6 60 30C61.5 30.4 62.8 31.6 64 32.5C65.2 33.4 65.7 34.8 67 35.5C68.3 36.2 70.2 36.6 72 36.5C73.8 36.4 76.2 35.4 78 34.8C79.8 34.2 80.6 33.4 82.5 32.8C84.4 32.2 87.2 31.2 89.3 31.4C91.4 31.6 93.7 32.7 95 34C96.3 35.3 97 37.2 97 39C97 40.8 96.3 43.2 95 44.5C93.7 45.8 91.4 46.5 89.3 46.6C87.2 46.7 84.5 45.5 82.5 45C80.5 44.5 78.9 44 77 43.8C75.1 43.5 73 43.4 71 43.5C69 43.6 66.7 43.9 65 44.5C63.3 45.1 62.2 46.1 61 47C59.8 47.9 58.5 48.9 58 50C57.5 51.1 58.5 52.4 58.3 53.5C58.1 54.6 57.7 55.8 57 56.5C56.3 57.2 55 57.6 54 57.5C53 57.4 51.5 56.8 50.8 56C50.1 55.2 49.6 54.1 49.6 53C49.6 51.9 50.6 50.6 50.8 49.5C51 48.4 51.2 47.6 51 46.5C50.8 45.4 49.8 44.4 49.5 43C49.2 41.6 48.8 40 49 38.3Z"/>
<circle fill="#225ea6" cx="89.3" cy="39" r="4.8"/>
<circle fill="#0c0c84" cx="89.3" cy="39" r="1.3"/>
<circle fill="#2fa294" cx="37.3" cy="55.5" r="3.8"/>
<circle fill="#92ec3c" cx="89.9" cy="23.7" r="4.6"/>
<circle fill="#92ec3c" cx="106" cy="22.7" r="5.8"/>
<circle fill="#92ec3c" cx="122.2" cy="40.2" r="5.4"/>
<circle fill="#92ec3c" cx="139.6" cy="57.3" r="1.5"/>
<path fill="#2fa294" d="M133 3C133 3 133 9.4 133 12.2C133 15 132.6 17.1 133 19.9C133.4 22.7 133.8 26.5 135.3 29.1C136.8 31.7 140.7 32.7 142.2 35.3C143.7 37.9 144 41.4 144.5 44.5C145 47.6 145.1 51.5 145.3 53.7C145.6 56 145.6 56.3 146 58C146.4 59.7 147.6 61.2 147.6 63.7C147.6 66.2 146.7 70.2 146 73C145.3 75.8 144.1 77.5 143.7 80.7C143.3 83.9 143.7 92 143.7 92L180 92L180 0L133 0L133 3Z"/>
<ellipse fill="#225ea6" cx="157.5" cy="22.5" rx="10" ry="12.5"/>
<ellipse fill="#0c0c84" cx="156" cy="23.4" rx="3.4" ry="5"/>
<circle fill="#225ea6" cx="158.2" cy="56.7" r="9.8"/>
<circle fill="#0c0c84" cx="156.8" cy="57.4" r="3.9"/>
<ellipse fill="#ffff82" cx="55" cy="73.3" rx="6.5" ry="5.7"/>
<circle fill="#ffff82" cx="69.9" cy="73.7" r="5.7"/>
<circle fill="#ffff82" cx="70.7" cy="89.1" r="5"/>
<circle fill="#ffff82" cx="35.6" cy="106.8" r="6.6"/>
<circle fill="#ffff82" cx="104.8" cy="90.7" r="2.6"/>
<circle fill="#2fa294" cx="88.3" cy="73.3" r="3"/>
<ellipse fill="#34ce36" cx="36.3" cy="88.2" rx="10" ry="8.6"/>
<circle fill="#2fa294" cx="36.5" cy="88.3" r="4.2"/>
<circle fill="#34ce36" cx="70.7" cy="107.6" r="7.2"/>
<circle fill="#2fa294" cx="123" cy="89.9" r="6.2"/>
</g></g>
<text class="lt" x="150.2" y="100.6" text-anchor="middle">Cd (mg/kg)</text>
<rect x="127.5" y="104.1" width="5.9" height="2.8" fill="#0c0c84"/><text class="ll" x="142" y="106.6" text-anchor="middle">0.07 - 0.08</text>
<rect x="127.5" y="109.1" width="5.9" height="2.8" fill="#225ea6"/><text class="ll" x="142" y="111.6" text-anchor="middle">0.08 - 0.10</text>
<rect x="127.5" y="114" width="5.9" height="2.8" fill="#2fa294"/><text class="ll" x="142" y="116.5" text-anchor="middle">0.10 - 0.12</text>
<rect x="150.8" y="104.1" width="5.9" height="2.8" fill="#34ce36"/><text class="ll" x="165.7" y="106.6" text-anchor="middle">0.12 - 0.14</text>
<rect x="150.8" y="109.1" width="5.9" height="2.8" fill="#92ec3c"/><text class="ll" x="165.7" y="111.6" text-anchor="middle">0.14 - 0.16</text>
<rect x="150.8" y="114" width="5.9" height="2.8" fill="#ffff82"/><text class="ll" x="165.7" y="116.5" text-anchor="middle">0.16 - 0.18</text>
<g><path d="M129.9 119.6h9.8v1.6h-9.8zM149.5 119.6h20.2v1.6h-20.2z" fill="#111"/><path d="M139.7 120.1h9.8v0.7h-9.8z" fill="#aaa"/><path d="M129.9 119.9v1.9M139.7 119.9v1.9M149.5 119.9v1.9M169.7 119.9v1.9" stroke="#222" stroke-width="0.3"/><text class="sb" x="129.9" y="123.3" text-anchor="middle">0</text><text class="sb" x="139.7" y="123.3" text-anchor="middle">25</text><text class="sb" x="149.5" y="123.3" text-anchor="middle">50</text><text class="sb" x="169.7" y="123.3" text-anchor="middle">100</text><text class="sb" x="170.4" y="120.9">m</text></g>
</g>
<g transform="translate(0 258.6)">
<g><text class="n" x="24.3" y="11.9" text-anchor="middle">N</text><path d="M24.2 13.5L20.7 24.8L24.3 21Z" fill="#111"/><path d="M24.2 13.5L27.9 24.8L24.3 21Z" fill="#fff" stroke="#222" stroke-width="0.6" stroke-linejoin="round"/></g>
<g clip-path="url(#q2)"><g filter="url(#bl)">
<rect x="20" y="0" width="160" height="130" fill="#1e4fa0"/>
<path fill="#0c0c84" d="M115.8 3C115.8 3 115.8 13.4 115.8 16.7C115.8 20 115.4 20.8 115.8 22.9C116.2 24.9 116.6 27.1 118 29C119.4 30.9 121.9 32.9 124.2 34.4C126.5 35.9 130.2 36.8 132 38.2C133.8 39.6 134.8 41.6 135.3 42.9C135.8 44.2 134.8 44.9 135 45.9C135.2 46.9 136.3 47.5 136.2 49C136.1 50.5 134.6 53.3 134.2 55.2C133.8 57.1 134 59.1 133.5 60.6C133 62.1 132.8 63.4 131.2 64.4C129.6 65.4 126.4 65.9 124.2 66.7C122 67.5 119.4 67.7 118 69C116.6 70.3 116.3 72.2 115.8 74.4C115.3 76.6 115.4 79.5 115 82.1C114.6 84.7 113.8 86.8 113.5 89.8C113.2 92.8 113.2 100 113.2 100L180 100L180 0L115.8 0L115.8 3Z"/>
<circle fill="#0c0c84" cx="89" cy="39.1" r="3.4"/>
<circle fill="#2b97a3" cx="105" cy="73.2" r="4.3"/>
<path fill="#2b97a3" d="M20 87.5C20 87.5 27.8 86.9 30.4 87.5C33 88.1 34.1 90.5 35.8 91.3C37.5 92.1 38.9 92.3 40.4 92.1C41.9 91.9 43.5 90 45 90.1C46.5 90.2 47.8 92.1 49.6 92.9C51.4 93.8 53.7 95.1 55.8 95.2C57.9 95.3 60.3 93.6 62 93.6C63.7 93.6 64.7 94.2 66 95C67.3 95.8 69.6 97.4 69.6 98.2C69.6 99 66.7 98.9 65.8 99.8C64.9 100.7 64.6 101.9 64.2 103.6C63.8 105.3 63.6 106.2 63.5 109.8C63.4 113.4 63.5 125 63.5 125L20 125L20 87.5Z"/>
<circle fill="#2b97a3" cx="70.8" cy="90.1" r="6.7"/>
<circle fill="#2b97a3" cx="74.5" cy="95" r="2"/>
<rect fill="#32b86e" x="20" y="94.8" width="28.3" height="27.2" rx="8"/>
<rect fill="#47d926" x="20" y="96.2" width="25" height="25.8" rx="7.5"/>
<circle fill="#a8ef47" cx="35.9" cy="106.1" r="7.3"/>
<circle fill="#ffff82" cx="35.9" cy="106.1" r="5.1"/>
</g></g>
<text class="lt" x="150.8" y="96.8" text-anchor="middle">Cu (mg/kg)</text>
<rect x="131.8" y="100.3" width="5.9" height="2.8" fill="#0c0c84"/><text class="ll" x="144.5" y="102.8" text-anchor="middle">31 - 40</text>
<rect x="131.8" y="105.1" width="5.9" height="2.8" fill="#1e4fa0"/><text class="ll" x="144.5" y="107.6" text-anchor="middle">40 - 50</text>
<rect x="131.8" y="110.1" width="5.9" height="2.8" fill="#2b97a3"/><text class="ll" x="144.5" y="112.6" text-anchor="middle">50 - 60</text>
<rect x="131.8" y="114.9" width="5.9" height="2.8" fill="#32b86e"/><text class="ll" x="144.5" y="117.4" text-anchor="middle">60 - 70</text>
<rect x="150.8" y="100.3" width="5.9" height="2.8" fill="#47d926"/><text class="ll" x="163.4" y="102.8" text-anchor="middle">70 - 80</text>
<rect x="150.8" y="105.1" width="5.9" height="2.8" fill="#a8ef47"/><text class="ll" x="163.4" y="107.6" text-anchor="middle">80 - 90</text>
<rect x="150.8" y="110.1" width="5.9" height="2.8" fill="#ffff82"/><text class="ll" x="163.4" y="112.6" text-anchor="middle">90 - 102</text>
<g><path d="M129.9 119.6h9.8v1.6h-9.8zM149.5 119.6h20.2v1.6h-20.2z" fill="#111"/><path d="M139.7 120.1h9.8v0.7h-9.8z" fill="#aaa"/><path d="M129.9 119.9v1.9M139.7 119.9v1.9M149.5 119.9v1.9M169.7 119.9v1.9" stroke="#222" stroke-width="0.3"/><text class="sb" x="129.9" y="123.3" text-anchor="middle">0</text><text class="sb" x="139.7" y="123.3" text-anchor="middle">25</text><text class="sb" x="149.5" y="123.3" text-anchor="middle">50</text><text class="sb" x="169.7" y="123.3" text-anchor="middle">100</text><text class="sb" x="170.4" y="120.9">m</text></g>
</g>
<g transform="translate(182.5 258.6)">
<g><text class="n" x="24.3" y="11.9" text-anchor="middle">N</text><path d="M24.2 13.5L20.7 24.8L24.3 21Z" fill="#111"/><path d="M24.2 13.5L27.9 24.8L24.3 21Z" fill="#fff" stroke="#222" stroke-width="0.6" stroke-linejoin="round"/></g>
<g clip-path="url(#q2)"><g filter="url(#bl)">
<rect x="20" y="0" width="160" height="130" fill="#2575a5"/>
<path fill="#2da29e" d="M53 10C53 10 52.2 25.8 53 30.6C53.8 35.4 55.9 36.3 57.6 39C59.3 41.7 60.6 44.9 63 46.7C65.4 48.5 69.8 48.6 72.2 49.8C74.6 50.9 76.6 51.2 77.6 53.6C78.6 56 78.4 61.1 78.3 64.4C78.2 67.7 77.8 71.2 76.8 73.6C75.8 76 73.7 78.3 72.2 79C70.7 79.7 69.1 78.9 67.6 77.5C66.1 76.1 64.8 72.4 63 70.6C61.2 68.8 59 67 56.8 66.7C54.6 66.4 51.7 67.3 49.9 69C48.1 70.7 47.7 74.5 46 76.7C44.3 78.9 42.4 80.7 39.9 82.1C37.4 83.5 34 84.5 30.7 85.2C27.4 85.9 20 86 20 86L20 10L53 10Z"/>
<path fill="#2da29e" d="M20 93C20 93 27.1 92.5 30.7 92.9C34.3 93.3 38.1 94.2 41.4 95.2C44.7 96.2 47.6 97.8 50.7 99C53.8 100.2 57.1 101.8 59.9 102.1C62.7 102.4 65 100.6 67.6 100.6C70.2 100.6 73.2 101.3 75.3 102.1C77.3 102.9 78.8 103 79.9 105.2C81 107.4 82 115 82 115L20 125L20 93Z"/>
<path fill="#2da29e" d="M94.5 10C94.5 10 94.9 17.9 94.5 21.3C94.1 24.7 92.3 27.5 92.2 30.6C92.1 33.7 93.4 36.5 93.7 39.8C94 43.1 93.5 47.7 94 50.6C94.5 53.5 96.3 54.8 97 57C97.7 59.2 97.7 61 98.3 63.6C98.9 66.2 99 70.2 100.7 72.9C102.4 75.6 105 78.3 108.3 79.8C111.6 81.3 116.6 81.3 120.7 82.1C124.8 82.9 129.7 84.2 133 84.4C136.3 84.7 138.9 84.8 140.7 83.6C142.5 82.4 143.7 79.5 143.7 77.5C143.7 75.5 142.2 73.1 140.7 71.3C139.2 69.5 136.2 68.5 134.5 66.7C132.8 64.9 131.3 62.7 130.6 60.6C129.9 58.5 130.4 56.3 130.2 54.4C130 52.5 130.4 50.3 129.5 49C128.6 47.7 126.6 47.4 125 46.8C123.4 46.2 121.6 46.4 120 45.2C118.4 44 115.3 42 115.3 39.8C115.3 37.6 119.4 34.6 120 32C120.6 29.4 119.2 26.9 119 24.4C118.8 21.8 119 19.9 119 16.7C119 13.5 119 5 119 5L94.5 10Z"/>
<path fill="#2da29e" d="M130.6 5C130.6 5 130.5 10.6 130.6 13.6C130.7 16.6 131.4 19.3 131.4 22.9C131.4 26.5 130.8 31.6 130.6 35.2C130.4 38.8 129.8 42.2 130 44.4C130.2 46.6 130.3 47.9 131.5 48.5C132.7 49.1 134.8 48.1 137 48.3C139.2 48.5 143 48.5 145 49.5C147 50.5 148.2 52.3 149.1 54.4C150 56.5 149 60 150.7 62.1C152.4 64.2 156.2 65.5 159.1 66.7C162 67.9 164.8 68.5 168.3 69C171.8 69.5 180 70 180 70L180 33.6C180 33.6 163.3 33.7 159.1 33.6C154.8 33.5 155.9 33.9 154.5 32.9C153.1 31.9 151.6 30.2 150.7 27.5C149.8 24.8 149.3 20 149.1 16.7C148.9 13.4 149.5 10.6 149.6 7.8C149.7 5 149.6 0 149.6 0L130.6 0L130.6 5Z"/>
<circle fill="#193d99" cx="72.2" cy="38.6" r="7"/>
<circle fill="#0c0c84" cx="72.2" cy="38.6" r="3"/>
<circle fill="#193d99" cx="89.1" cy="23.6" r="4.5"/>
<circle fill="#193d99" cx="88.3" cy="56.7" r="4.2"/>
<ellipse fill="#193d99" cx="88.3" cy="73.4" rx="7" ry="10.6"/>
<path fill="#193d99" d="M85.3 59.5C86 59.1 90.5 59.1 91.3 59.5C92 59.9 89.8 61.1 89.8 62C89.8 62.9 91.7 64.5 91 65C90.3 65.5 86.3 65.5 85.6 65C84.9 64.5 86.8 62.9 86.8 62C86.8 61.1 84.5 59.9 85.3 59.5Z"/>
<circle fill="#0c0c84" cx="88.3" cy="72.9" r="4.3"/>
<ellipse fill="#32b86e" cx="53.7" cy="55.2" rx="9.2" ry="8"/>
<circle fill="#39d22f" cx="53.7" cy="55.2" r="6.2"/>
<circle fill="#74e52d" cx="53.7" cy="55.2" r="3.8"/>
<rect fill="#32b86e" x="97" y="8" width="19.3" height="24.8" rx="6.5"/>
<rect fill="#39d22f" x="98" y="8" width="17.4" height="23.6" rx="6.5"/>
<circle fill="#74e52d" cx="106.8" cy="22.3" r="6.8"/>
<circle fill="#c1f355" cx="106.8" cy="22.3" r="4.7"/>
<circle fill="#ffff82" cx="106.8" cy="22.3" r="3"/>
<ellipse fill="#2575a5" cx="106" cy="40.1" rx="5.4" ry="4.2"/>
<circle fill="#32b86e" cx="106" cy="55.9" r="7.4"/>
<circle fill="#39d22f" cx="106" cy="55.9" r="5"/>
<circle fill="#74e52d" cx="106" cy="55.9" r="2.8"/>
<circle fill="#193d99" cx="123.7" cy="23.2" r="3"/>
<circle fill="#193d99" cx="139.9" cy="57" r="4.6"/>
<circle fill="#32b86e" cx="140.2" cy="40.1" r="4.3"/>
<circle fill="#33c354" cx="140.2" cy="40.1" r="2"/>
<circle fill="#193d99" cx="156.8" cy="23.6" r="3.4"/>
<circle fill="#193d99" cx="54.8" cy="89" r="8.5"/>
<circle fill="#0c0c84" cx="54.8" cy="89" r="4.3"/>
<circle fill="#32b86e" cx="36.5" cy="70.6" r="5.4"/>
<circle fill="#32b86e" cx="36" cy="107.5" r="7.7"/>
<circle fill="#32b86e" cx="122.5" cy="73.6" r="4.2"/>
</g></g>
<text class="lt" x="150.5" y="91.6" text-anchor="middle">Ni (mg/kg)</text>
<rect x="132.6" y="94.9" width="5.9" height="2.8" fill="#0c0c84"/><text class="ll" x="144.6" y="97.4" text-anchor="middle">32 - 34</text>
<rect x="132.6" y="100" width="5.9" height="2.8" fill="#193d99"/><text class="ll" x="144.6" y="102.5" text-anchor="middle">34 - 36</text>
<rect x="132.6" y="104.9" width="5.9" height="2.8" fill="#2575a5"/><text class="ll" x="144.6" y="107.4" text-anchor="middle">36 - 38</text>
<rect x="132.6" y="109.9" width="5.9" height="2.8" fill="#2da29e"/><text class="ll" x="144.6" y="112.4" text-anchor="middle">38 - 40</text>
<rect x="132.6" y="114.7" width="5.9" height="2.8" fill="#32b86e"/><text class="ll" x="144.6" y="117.2" text-anchor="middle">40 - 42</text>
<rect x="150.8" y="94.9" width="5.9" height="2.8" fill="#39d22f"/><text class="ll" x="162.9" y="97.4" text-anchor="middle">42 - 44</text>
<rect x="150.8" y="100" width="5.9" height="2.8" fill="#74e52d"/><text class="ll" x="162.9" y="102.5" text-anchor="middle">44 - 46</text>
<rect x="150.8" y="104.9" width="5.9" height="2.8" fill="#c1f355"/><text class="ll" x="162.9" y="107.4" text-anchor="middle">46 - 48</text>
<rect x="150.8" y="109.9" width="5.9" height="2.8" fill="#ffff82"/><text class="ll" x="162.9" y="112.4" text-anchor="middle">48 - 50</text>
<g><path d="M129.9 119.6h9.8v1.6h-9.8zM149.5 119.6h20.2v1.6h-20.2z" fill="#111"/><path d="M139.7 120.1h9.8v0.7h-9.8z" fill="#aaa"/><path d="M129.9 119.9v1.9M139.7 119.9v1.9M149.5 119.9v1.9M169.7 119.9v1.9" stroke="#222" stroke-width="0.3"/><text class="sb" x="129.9" y="123.3" text-anchor="middle">0</text><text class="sb" x="139.7" y="123.3" text-anchor="middle">25</text><text class="sb" x="149.5" y="123.3" text-anchor="middle">50</text><text class="sb" x="169.7" y="123.3" text-anchor="middle">100</text><text class="sb" x="170.4" y="120.9">m</text></g>
</g>
<g transform="translate(365.5 258.6)">
<g><text class="n" x="24.3" y="11.9" text-anchor="middle">N</text><path d="M24.2 13.5L20.7 24.8L24.3 21Z" fill="#111"/><path d="M24.2 13.5L27.9 24.8L24.3 21Z" fill="#fff" stroke="#222" stroke-width="0.6" stroke-linejoin="round"/></g>
<g clip-path="url(#q2)"><g filter="url(#bl)">
<rect x="20" y="0" width="160" height="130" fill="#225ea6"/>
<path fill="#2fa294" d="M66 15C66 15 64.7 24.6 66 27.5C67.3 30.4 71.8 30.2 73.7 32.1C75.6 34 77.2 37.1 77.6 39C78 40.9 76.8 42.3 76 43.6C75.2 44.9 73.2 45.3 73 46.7C72.8 48.1 74 50.3 74.5 52.1C75 53.9 76 56.1 76 57.5C76 58.9 75.4 59.6 74.5 60.5C73.6 61.4 72.4 61.9 70.7 62.9C69 63.9 66.2 65.4 64.5 66.7C62.8 68 61 69.1 60.5 70.5C60 71.9 60 73.9 61.4 75.2C62.8 76.5 66.4 77.4 69.1 78.2C71.8 79 75.5 78.6 77.6 79.8C79.6 81 80.6 83 81.4 85.2C82.2 87.4 81.4 90.6 82.2 92.9C83 95.2 84.8 97.5 86 99C87.2 100.5 88.1 100.3 89.1 102.1C90.1 103.9 92 110 92 110L20 125L20 15L66 15Z"/>
<path fill="#225ea6" d="M20 65.3C20 65.3 27.2 64.9 30 64.8C32.8 64.7 34.5 64.6 36.5 64.8C38.5 65 40.3 65.4 42 66.2C43.7 67 45.2 69.4 46.5 69.8C47.8 70.2 48.6 68.9 49.5 68.6C50.4 68.3 51.2 67.7 52 67.8C52.8 67.9 53.8 68.8 54.5 69.3C55.2 69.8 55.5 70.9 56.2 70.8C56.9 70.7 57.5 69.2 58.5 68.5C59.5 67.8 60.6 67.3 62 66.8C63.4 66.3 67 65.4 67 65.4L70 72L66 76.9C66 76.9 63.2 77.2 62 77C60.8 76.8 59.5 76.3 58.5 75.8C57.5 75.3 56.9 74 56.2 73.8C55.5 73.6 55.2 74.4 54.5 74.8C53.8 75.2 52.8 76.2 52 76.2C51.2 76.2 50.4 75.4 49.5 75C48.6 74.6 47.8 73.3 46.5 73.8C45.2 74.3 43.7 77 42 78C40.3 79 38.5 79.7 36.5 80.1C34.5 80.5 32.8 80.2 30 80.2C27.2 80.2 20 80 20 80L20 65.3Z"/>
<circle fill="#0c0c84" cx="37.3" cy="72.1" r="1.2"/>
<circle fill="#34ce36" cx="37.3" cy="55.4" r="3.8"/>
<circle fill="#34ce36" cx="70.7" cy="90.1" r="5"/>
<circle fill="#225ea6" cx="53.7" cy="105.9" r="2.3"/>
<rect fill="#34ce36" x="20" y="94.7" width="26" height="25.3" rx="6.5"/>
<circle fill="#92ec3c" cx="36" cy="105.9" r="8"/>
<circle fill="#cff65e" cx="36" cy="105.9" r="6"/>
<circle fill="#ffff82" cx="36" cy="105.9" r="4.3"/>
<path fill="#0c0c84" d="M84 40.3C84 38.7 84.9 36.6 86 35.5C87.1 34.4 88.7 34 90.5 33.8C92.3 33.6 94.8 34.6 97 34.5C99.2 34.4 101.6 32.9 103.7 33C105.8 33.1 108 33.7 109.5 35C111 36.3 112.4 39 112.5 41C112.6 43 111.5 45.7 110 47C108.5 48.3 105.9 48.9 103.7 49C101.5 49.1 99.2 47.9 97 47.5C94.8 47.1 92.3 47.2 90.5 46.8C88.7 46.4 87.1 46.1 86 45C84.9 43.9 84 41.9 84 40.3Z"/>
<circle fill="#2fa294" cx="123.3" cy="23.2" r="3"/>
<circle fill="#2fa294" cx="139.4" cy="40.6" r="5.8"/>
<circle fill="#2fa294" cx="104.5" cy="90.2" r="4.3"/>
<path fill="#0c0c84" d="M152.2 3C152.2 3 152.6 7.5 152.2 9.8C151.8 12.1 150 14 149.6 16.7C149.2 19.4 149.2 23.1 149.9 25.9C150.6 28.7 153.2 31.3 153.7 33.6C154.2 35.9 152.6 38 153 39.8C153.4 41.6 154.5 43.5 156 44.4C157.5 45.3 158.5 45.1 162.2 45.2C165.9 45.3 178 45 178 45L178 0L152.2 3Z"/>
<path fill="#0c0c84" d="M121.4 51.3C123.2 51.3 125.5 53.5 126.8 55.2C128.2 56.9 128.5 59.5 129.5 61.3C130.5 63.1 131.2 64.7 133 65.8C134.8 66.9 136.9 67.3 140 68C143.1 68.7 148.1 69.6 151.5 70.2C154.9 70.8 158.4 71.1 160.7 71.8C162.9 72.5 164.2 73.5 165 74.6C165.8 75.7 165.6 76.9 165.3 78.5C165 80.1 163 84 163 84L163 100L117.6 100C117.6 100 117.9 92.1 117.6 89C117.3 85.9 116.7 83.9 116 81.3C115.3 78.7 113.8 76.4 113.5 73.6C113.2 70.8 113.9 67.5 114.3 64.4C114.7 61.3 114.8 57.4 116 55.2C117.2 53 119.6 51.3 121.4 51.3Z"/>
</g></g>
<text class="lt" x="149.7" y="100.9" text-anchor="middle">As (mg/kg)</text>
<rect x="127.3" y="104.3" width="5.9" height="2.8" fill="#0c0c84"/><text class="ll" x="142.1" y="106.8" text-anchor="middle">7.0 - 8.0</text>
<rect x="127.3" y="109.4" width="5.9" height="2.8" fill="#225ea6"/><text class="ll" x="142.1" y="111.9" text-anchor="middle">8.0 - 9.0</text>
<rect x="127.3" y="114.3" width="5.9" height="2.8" fill="#2fa294"/><text class="ll" x="142.1" y="116.8" text-anchor="middle">9.0 - 10.0</text>
<rect x="149.9" y="104.3" width="5.9" height="2.8" fill="#34ce36"/><text class="ll" x="164.8" y="106.8" text-anchor="middle">10.0 - 11.0</text>
<rect x="149.9" y="109.4" width="5.9" height="2.8" fill="#92ec3c"/><text class="ll" x="164.8" y="111.9" text-anchor="middle">11.0 - 12.0</text>
<rect x="149.9" y="114.3" width="5.9" height="2.8" fill="#ffff82"/><text class="ll" x="164.8" y="116.8" text-anchor="middle">12.0 - 12.7</text>
<g><path d="M129.9 119.6h9.8v1.6h-9.8zM149.5 119.6h20.2v1.6h-20.2z" fill="#111"/><path d="M139.7 120.1h9.8v0.7h-9.8z" fill="#aaa"/><path d="M129.9 119.9v1.9M139.7 119.9v1.9M149.5 119.9v1.9M169.7 119.9v1.9" stroke="#222" stroke-width="0.3"/><text class="sb" x="129.9" y="123.3" text-anchor="middle">0</text><text class="sb" x="139.7" y="123.3" text-anchor="middle">25</text><text class="sb" x="149.5" y="123.3" text-anchor="middle">50</text><text class="sb" x="169.7" y="123.3" text-anchor="middle">100</text><text class="sb" x="170.4" y="120.9">m</text></g>
</g>
</svg>
</body></html>
